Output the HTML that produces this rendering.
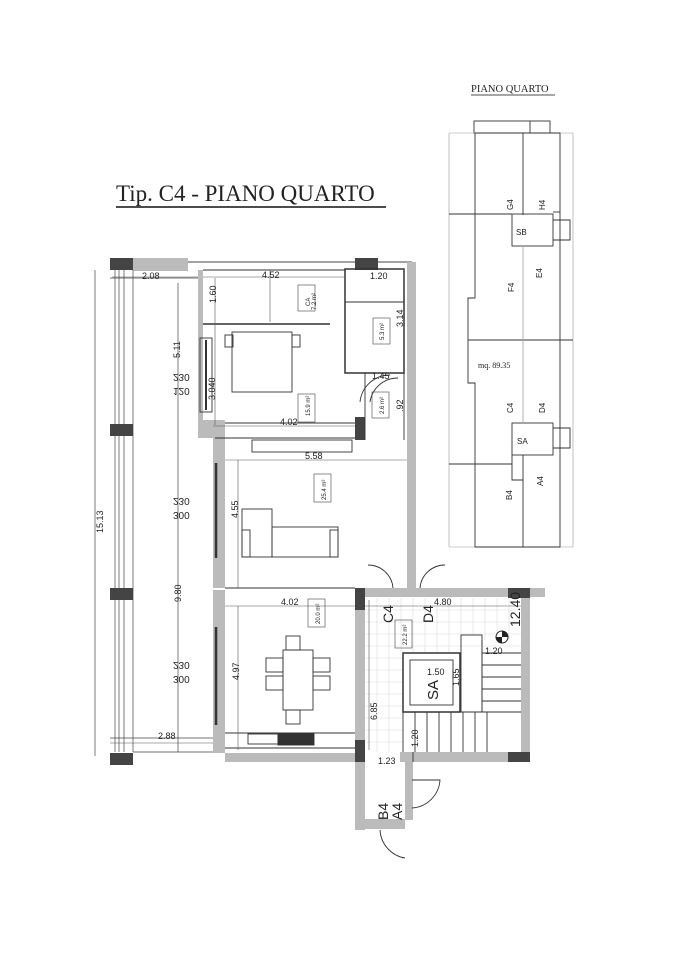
<!DOCTYPE html>
<html><head><meta charset="utf-8"><style>
html,body{margin:0;padding:0;background:#fff}
svg{display:block}
text{font-family:"Liberation Sans",sans-serif;fill:#222}
.s{font-family:"Liberation Serif",serif}
</style></head><body>
<svg width="678" height="960" viewBox="0 0 678 960" xmlns="http://www.w3.org/2000/svg">
<!-- Title -->
<text class="s" x="116" y="201" font-size="23" fill="#111">Tip. C4 - PIANO QUARTO</text>
<line x1="116" y1="207" x2="386" y2="207" stroke="#111" stroke-width="1.5"/>
<text class="s" x="471" y="92" font-size="10.5">PIANO QUARTO</text>
<line x1="471" y1="95" x2="555" y2="95" stroke="#111" stroke-width="0.8"/>

<!-- small plan -->
<g fill="none" stroke="#333" stroke-width="0.9">
<rect x="474" y="121" width="76" height="12"/>
<line x1="530" y1="121" x2="530" y2="133"/>
<line x1="449" y1="133" x2="573" y2="133" stroke="#999" stroke-width="0.6"/>
<line x1="449" y1="547" x2="573" y2="547" stroke="#999" stroke-width="0.6"/>
<line x1="449" y1="133" x2="449" y2="547" stroke="#999" stroke-width="0.6"/>
<line x1="573" y1="133" x2="573" y2="547" stroke="#999" stroke-width="0.6"/>
<polyline points="475,133 475,298 468,298 468,383 475,383 475,547 560,547 560,133 475,133"/>
<line x1="523" y1="133" x2="523" y2="215"/>
<line x1="449" y1="214" x2="512" y2="214"/>
<rect x="512" y="214" width="41" height="32"/>
<polyline points="553,220 570,220 570,240 553,240"/>
<line x1="553" y1="212" x2="560" y2="212"/>
<line x1="468" y1="340" x2="573" y2="340"/>
<rect x="512" y="423" width="41" height="32"/>
<polyline points="553,428 570,428 570,448 553,448"/>
<line x1="449" y1="464" x2="512" y2="464"/>
<line x1="523" y1="455" x2="523" y2="547"/>
<polyline points="512,455 512,480 523,480"/>
<line x1="523" y1="246" x2="523" y2="423" stroke="#aaa"/>
</g>
<g font-size="8">
<text x="516" y="235">SB</text><text x="517" y="444">SA</text>
<text x="513" y="210" transform="rotate(-90 513 210)">G4</text>
<text x="545" y="210" transform="rotate(-90 545 210)">H4</text>
<text x="514" y="292" transform="rotate(-90 514 292)">F4</text>
<text x="542" y="278" transform="rotate(-90 542 278)">E4</text>
<text x="513" y="413" transform="rotate(-90 513 413)">C4</text>
<text x="545" y="413" transform="rotate(-90 545 413)">D4</text>
<text x="512" y="500" transform="rotate(-90 512 500)">B4</text>
<text x="543" y="486" transform="rotate(-90 543 486)">A4</text>
</g>
<text class="s" x="478" y="368" font-size="8">mq. 89.35</text>

<!-- main plan: balcony -->
<g stroke="#444" fill="none" stroke-width="0.7">
<line x1="115" y1="270" x2="115" y2="752"/><line x1="119" y1="270" x2="119" y2="752"/>
<line x1="124" y1="270" x2="124" y2="752"/><line x1="133" y1="270" x2="133" y2="752"/>
<line x1="133" y1="270" x2="188" y2="270"/>
<line x1="133" y1="752" x2="215" y2="752"/>
<line x1="95" y1="270" x2="95" y2="756"/>
<line x1="178" y1="283" x2="178" y2="752"/>
<line x1="110" y1="278" x2="198" y2="278"/>
<line x1="110" y1="738" x2="215" y2="738"/>
</g>
<rect x="133" y="258" width="55" height="12" fill="#bbb"/>
<rect x="110" y="258" width="23" height="12" fill="#444"/>
<rect x="110" y="424" width="23" height="12" fill="#444"/>
<rect x="110" y="588" width="23" height="12" fill="#444"/>
<rect x="110" y="753" width="23" height="12" fill="#444"/>
<rect x="355" y="258" width="23" height="12" fill="#444"/>
<line x1="188" y1="262" x2="355" y2="262" stroke="#444"/>
<line x1="378" y1="262" x2="412" y2="262" stroke="#444"/>

<!-- walls -->
<g fill="#bbb">
<rect x="407" y="262" width="9" height="326"/>
<rect x="198" y="270" width="5" height="150"/>
<rect x="198" y="420" width="27" height="18"/>
<rect x="213" y="438" width="12" height="150"/>
<rect x="213" y="590" width="12" height="163"/>
<rect x="225" y="753" width="130" height="9"/>
<rect x="355" y="588" width="10" height="242"/>
<rect x="365" y="588" width="143" height="9"/>
<rect x="521" y="597" width="9" height="155"/>
<rect x="400" y="752" width="108" height="10"/>
<rect x="355" y="819" width="50" height="10"/>
<rect x="405" y="762" width="8" height="58"/>
<rect x="530" y="588" width="15" height="9"/>
</g>
<rect x="355" y="588" width="10" height="22" fill="#444"/>
<rect x="355" y="740" width="10" height="22" fill="#444"/>
<rect x="508" y="588" width="22" height="10" fill="#444"/>
<rect x="508" y="752" width="22" height="10" fill="#444"/>
<rect x="355" y="417" width="10" height="23" fill="#444"/>
<!-- inner lines -->
<g stroke="#333" fill="none" stroke-width="0.9">
<line x1="203" y1="270" x2="345" y2="270"/>
<line x1="215" y1="438" x2="355" y2="438"/>
<line x1="225" y1="423" x2="355" y2="423"/>
<rect x="345" y="269" width="59" height="104" stroke-width="1.5"/>
<line x1="345" y1="302" x2="404" y2="302"/>
<line x1="365" y1="373" x2="365" y2="440"/>
<line x1="404" y1="373" x2="404" y2="440"/>
<line x1="225" y1="588" x2="355" y2="588"/>
<line x1="225" y1="748" x2="355" y2="748"/>
<line x1="225" y1="733" x2="355" y2="733"/>
<line x1="216" y1="463" x2="216" y2="558" stroke-width="2.5"/>
<line x1="216" y1="627" x2="216" y2="725" stroke-width="2.5"/>
<line x1="206" y1="340" x2="206" y2="410" stroke-width="2"/>
<rect x="200" y="338" width="12" height="74"/>
<!-- furniture -->
<rect x="232" y="332" width="60" height="60"/>
<rect x="225" y="335" width="8" height="12"/><rect x="292" y="335" width="8" height="12"/>
<line x1="203" y1="324" x2="330" y2="324" stroke-width="1.5"/>
<rect x="242" y="509" width="30" height="48"/>
<rect x="272" y="527" width="66" height="30"/>
<rect x="242" y="530" width="8" height="27"/><rect x="330" y="530" width="8" height="27"/>
<rect x="283" y="650" width="30" height="60"/>
<rect x="286" y="636" width="14" height="14"/><rect x="286" y="710" width="14" height="14"/>
<rect x="266" y="658" width="17" height="14"/><rect x="266" y="676" width="17" height="14"/>
<rect x="313" y="658" width="17" height="14"/><rect x="313" y="676" width="17" height="14"/>
<rect x="248" y="734" width="30" height="10"/>
<rect x="278" y="733" width="36" height="12" fill="#333"/>
<rect x="252" y="440" width="100" height="12"/>
<!-- doors -->
<path d="M360 402 A30 30 0 0 1 390 375"/>
<path d="M370 402 A28 28 0 0 1 398 378"/>
<path d="M393 588 A25 25 0 0 0 368 565 M420 588 A25 25 0 0 1 445 565"/>
<path d="M380 830 A30 30 0 0 0 405 858 M412 780 L440 780 A30 30 0 0 1 412 808"/>
<!-- lobby grid -->
<g stroke="#ddd" stroke-width="0.6">
<path d="M365 610H521M365 622H521M365 634H521M365 646H521M365 658H403M365 670H403M365 682H403M365 694H403M365 706H403M365 718H403M365 730H403M365 742H403"/>
<path d="M377 598V752M389 598V752M401 598V652M413 598V652M425 598V652M437 598V652M449 598V652M461 598V635M473 598V635M485 598V640M497 598V640M509 598V640"/>
</g>
<rect x="403" y="653" width="57" height="59" stroke-width="1.5"/>
<rect x="410" y="660" width="43" height="45"/>
<rect x="461" y="635" width="21" height="77"/>
<path d="M482 653H521M482 665H521M482 677H521M482 689H521M482 701H521M482 640V712"/>
<path d="M403 712H521M403 712V752M415 712V752M427 712V752M439 712V752M451 712V752M463 712V752M475 712V752M487 712V752"/>
<line x1="413" y1="752" x2="413" y2="762"/>
</g>
<circle cx="502" cy="637" r="6" fill="#fff" stroke="#222"/>
<path d="M502 631A6 6 0 0 1 508 637L502 637Z M502 643A6 6 0 0 1 496 637L502 637Z" fill="#222"/>

<!-- dimension lines -->
<g stroke="#555" stroke-width="0.6">
<line x1="112" y1="277" x2="198" y2="277"/>
<line x1="203" y1="277" x2="345" y2="277"/>
<line x1="213" y1="426" x2="355" y2="426"/>
<line x1="225" y1="460" x2="407" y2="460"/>
<line x1="225" y1="606" x2="355" y2="606"/>
<line x1="365" y1="606" x2="521" y2="606"/>
<line x1="110" y1="743" x2="213" y2="743"/>
<line x1="215" y1="278" x2="215" y2="425"/>
<line x1="238" y1="460" x2="238" y2="588"/>
<line x1="238" y1="606" x2="238" y2="750"/>
<line x1="270" y1="270" x2="270" y2="322"/>
<line x1="369" y1="600" x2="369" y2="750"/>
</g>
<g font-size="9">
<text x="142" y="279">2.08</text>
<text x="262" y="278">4.52</text>
<text x="370" y="279">1.20</text>
<text x="280" y="425">4.02</text>
<text x="372" y="379">1.45</text>
<text x="305" y="459">5.58</text>
<text x="281" y="605">4.02</text>
<text x="434" y="605">4.80</text>
<text x="158" y="739">2.88</text>
<text x="378" y="764">1.23</text>
<text x="427" y="675">1.50</text>
<text x="485" y="654">1.20</text>
<g>
<text x="103" y="533" transform="rotate(-90 103 533)">15.13</text>
<text x="181" y="602" transform="rotate(-90 181 602)">9.80</text>
<text x="180" y="358" transform="rotate(-90 180 358)">5.11</text>
<text x="216" y="303" transform="rotate(-90 216 303)">1.60</text>
<text x="215" y="400" transform="rotate(-90 215 400)">3.040</text>
<text x="403" y="327" transform="rotate(-90 403 327)">3.14</text>
<text x="403" y="412" transform="rotate(-90 403 412)">.92</text>
<text x="238" y="518" transform="rotate(-90 238 518)">4.55</text>
<text x="239" y="680" transform="rotate(-90 239 680)">4.97</text>
<text x="377" y="720" transform="rotate(-90 377 720)">6.85</text>
<text x="459" y="686" transform="rotate(-90 459 686)">1.65</text>
<text x="418" y="747" transform="rotate(-90 418 747)">1.20</text>
</g>
</g>
<g class="s" font-size="10">
<text x="173" y="-374" transform="scale(1,-1)">230</text>
<text x="173" y="-388" transform="scale(1,-1)">120</text>
<text x="173" y="-498" transform="scale(1,-1)">230</text>
<text x="173" y="-512" transform="scale(1,-1)">300</text>
<text x="173" y="-662" transform="scale(1,-1)">230</text>
<text x="173" y="-676" transform="scale(1,-1)">300</text>
</g>
<g font-size="14">
<text x="393" y="623" transform="rotate(-90 393 623)">C4</text>
<text x="433" y="623" transform="rotate(-90 433 623)">D4</text>
<text x="520" y="627" transform="rotate(-90 520 627)">12.40</text>
<text x="438" y="700" transform="rotate(-90 438 700)" font-size="15">SA</text>
<text x="402" y="820" transform="rotate(-90 402 820)">A4</text>
<text x="388" y="820" transform="rotate(-90 388 820)">B4</text>
</g>
<!-- room labels -->
<g fill="none" stroke="#444" stroke-width="0.6">
<rect x="298" y="285" width="17" height="26"/><rect x="373" y="318" width="17" height="26"/>
<rect x="298" y="394" width="17" height="28"/><rect x="372" y="392" width="17" height="26"/>
<rect x="314" y="474" width="17" height="28"/><rect x="308" y="599" width="17" height="28"/>
<rect x="395" y="620" width="17" height="28"/>
</g>
<g font-size="6">
<text x="310" y="306" transform="rotate(-90 310 306)">CA</text>
<text x="316" y="310" transform="rotate(-90 316 310)">7.2 m²</text>
<text x="384" y="340" transform="rotate(-90 384 340)">5.3 m²</text>
<text x="310" y="416" transform="rotate(-90 310 416)">15.9 m²</text>
<text x="384" y="414" transform="rotate(-90 384 414)">2.6 m²</text>
<text x="326" y="500" transform="rotate(-90 326 500)">25.4 m²</text>
<text x="320" y="624" transform="rotate(-90 320 624)">20.0 m²</text>
<text x="407" y="645" transform="rotate(-90 407 645)">22.2 m²</text>
</g>
</svg>
</body></html>
